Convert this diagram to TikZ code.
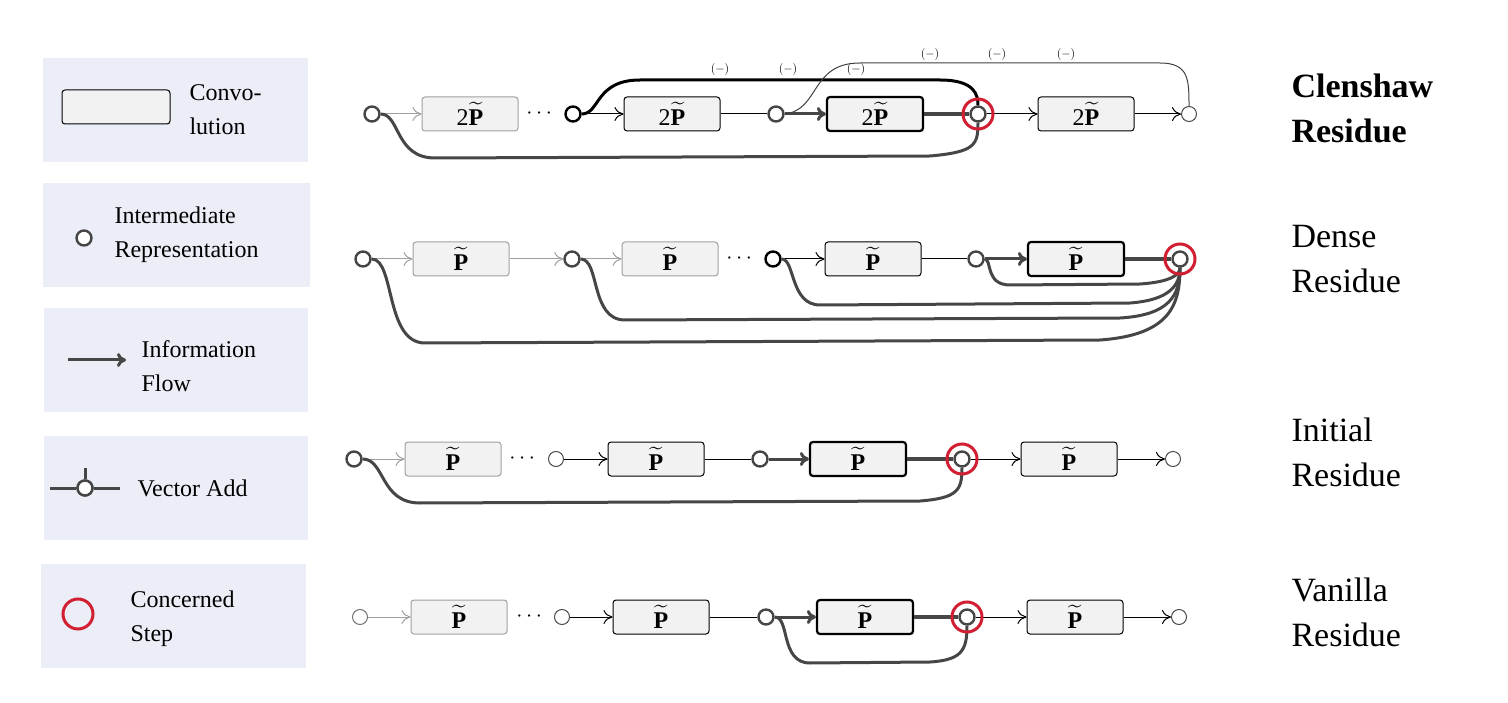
\documentclass[tikz,border=0pt]{standalone}
\usepackage{fix-cm}
\usepackage{amsmath,amssymb}
\usepackage{fontspec}
\setmainfont{Liberation Serif}
\usetikzlibrary{arrows.meta}
\definecolor{panel}{RGB}{235,238,246}
\definecolor{ringred}{RGB}{210,30,50}
\definecolor{linegray}{RGB}{70,70,70}
\definecolor{faintgray}{RGB}{160,160,160}
\tikzset{
  conv/.style={draw, rounded corners=3pt, fill=black!5, minimum width=96pt, minimum height=34pt, inner sep=0pt, font=\fontsize{24}{26}\selectfont, line width=1pt},
  convfaint/.style={conv, draw=faintgray},
  convbold/.style={conv, line width=2.2pt},
  inter/.style={circle, draw=linegray, line width=2.4pt, minimum size=15pt, inner sep=0pt, fill=white},
  interdark/.style={inter, draw=black},
  interthin/.style={circle, draw=black!70, line width=1pt, minimum size=15pt, inner sep=0pt, fill=white},
  flow/.style={-{To[length=9pt,width=14pt]}, line width=1pt},
  flowfaint/.style={flow, draw=faintgray},
  flowbold/.style={-{To[length=9pt,width=14pt]}, line width=3pt, draw=linegray},
  plain/.style={line width=1pt},
  plainbold/.style={line width=3.5pt, draw=linegray},
  skip/.style={line width=3pt, draw=linegray},
  skipblack/.style={line width=3pt, draw=black},
  skipthin/.style={line width=1pt, draw=black!75},
  ring/.style={draw=ringred, line width=3pt},
  panelbox/.style={fill=panel, draw=none},
  legtext/.style={anchor=west, align=left, font=\fontsize{24}{34}\selectfont},
  rowlabel/.style={anchor=west, align=left, font=\fontsize{34}{45}\selectfont},
  minus/.style={font=\fontsize{12}{12}\selectfont},
  dots/.style={font=\fontsize{22}{22}\selectfont}
}
\newcommand{\Pt}{$\widetilde{\textbf{P}}$}
\newcommand{\Ptt}{2$\widetilde{\textbf{P}}$}
\begin{document}
\begin{tikzpicture}[x=1pt,y=-1pt]
\useasboundingbox (0,0) rectangle (1508,703);

% legend panels
\fill[panelbox] (43,58) rectangle (308,162);
\fill[panelbox] (43,183) rectangle (310,287);
\fill[panelbox] (44,308) rectangle (308,412);
\fill[panelbox] (44,436) rectangle (308,540);
\fill[panelbox] (41,564) rectangle (306,668);

\node[conv, minimum width=108pt] (lconv) at (116,107) {};
\node[legtext] (tconv) at (186,110) {Convo-\\lution};
\node[inter] (linter) at (84,238) {};
\node[legtext] (tinter) at (111,235) {Intermediate\\Representation};
\coordinate (lfa) at (68,360);
\coordinate (lfb) at (126,360);
\draw[flowbold] (lfa) -- (lfb);
\node[legtext] (tflow) at (138,366) {Information\\Flow};
\coordinate (lva) at (50,488);
\coordinate (lvb) at (120,488);
\coordinate (lvt) at (85,468);
\node[inter] (ladd) at (85,488) {};
\draw[skip] (lva) -- (ladd) -- (lvb);
\draw[skip] (lvt) -- (ladd);
\node[inter] at (85,488) {};
\node[legtext] (tadd) at (134,488) {Vector Add};
\node[circle, ring, minimum size=30pt, inner sep=0pt] (lring) at (78,614) {};
\node[legtext] (tring) at (127,619) {Concerned\\Step};

% row labels
\node[rowlabel, font=\fontsize{34}{45}\selectfont\bfseries] (lclen) at (1288,108) {Clenshaw\\Residue};
\node[rowlabel] (ldense) at (1288,259) {Dense\\Residue};
\node[rowlabel] (linit) at (1288,452) {Initial\\Residue};
\node[rowlabel] (lvan) at (1288,612) {Vanilla\\Residue};

% Clenshaw row
\node[inter] (c0) at (372,114) {};
\node[convfaint] (cb1) at (470,114) {\Ptt};
\node[dots] (cd) at (541,114) {$\cdots$};
\node[interdark] (c1) at (573,114) {};
\node[conv] (cb2) at (672,114) {\Ptt};
\node[inter] (c2) at (776,114) {};
\node[convbold] (cb3) at (875,114) {\Ptt};
\node[inter] (c3) at (978,114) {};
\node[conv] (cb4) at (1086,114) {\Ptt};
\node[interthin] (c4) at (1189,114) {};
\draw[flowfaint] (c0) -- (cb1);
\draw[flow] (c1) -- (cb2);
\draw[plain] (cb2) -- (c2);
\draw[flowbold] (c2) -- (cb3);
\draw[plainbold] (cb3) -- (c3);
\draw[flow] (c3) -- (cb4);
\draw[flow] (cb4) -- (c4);
\draw[skip] (c0.east) .. controls (400,114) and (395,158) .. (435,158) -- (930,156) .. controls (975,152) and (978,145) .. (c3.south);
\draw[skipblack] (c1.east) .. controls (600,114) and (595,80) .. (640,80) -- (940,80) .. controls (975,80) and (978,95) .. (c3.north);
\draw[skipthin] (c2.east) .. controls (820,110) and (810,63) .. (860,63) -- (1160,63) .. controls (1189,63) and (1189,80) .. (c4.north);
\draw[ring] (c3) circle (15);
\node[minus] (m1) at (720,70) {$(-)$};
\node[minus] (m2) at (788,70) {$(-)$};
\node[minus] (m3) at (856,70) {$(-)$};
\node[minus] (m4) at (930,55) {$(-)$};
\node[minus] (m5) at (997,55) {$(-)$};
\node[minus] (m6) at (1066,55) {$(-)$};

% Dense row
\node[inter] (d0) at (363,259) {};
\node[convfaint] (db1) at (461,259) {\Pt};
\node[inter] (d1) at (572,259) {};
\node[convfaint] (db2) at (670,259) {\Pt};
\node[dots] (dd) at (741,259) {$\cdots$};
\node[interdark] (d2) at (773,259) {};
\node[conv] (db3) at (873,259) {\Pt};
\node[inter] (d3) at (976,259) {};
\node[convbold] (db4) at (1076,259) {\Pt};
\node[inter] (d4) at (1180,259) {};
\draw[flowfaint] (d0) -- (db1);
\draw[flowfaint] (db1) -- (d1);
\draw[flowfaint] (d1) -- (db2);
\draw[flow] (d2) -- (db3);
\draw[plain] (db3) -- (d3);
\draw[flowbold] (d3) -- (db4);
\draw[plainbold] (db4) -- (d4);
\draw[skip] (d3.east) .. controls (992,259) and (985,285) .. (1010,285) -- (1140,284) .. controls (1170,282) and (1180,275) .. (d4.south);
\draw[skip] (d2.east) .. controls (795,259) and (790,305) .. (820,305) -- (1130,303) .. controls (1170,300) and (1180,285) .. (d4.south);
\draw[skip] (d1.east) .. controls (600,259) and (590,320) .. (625,320) -- (1120,318) .. controls (1170,315) and (1180,295) .. (d4.south);
\draw[skip] (d0.east) .. controls (395,259) and (385,343) .. (425,343) -- (1100,340) .. controls (1170,335) and (1180,305) .. (d4.south);
\draw[ring] (d4) circle (15);

% Initial row
\node[inter] (i0) at (354,459) {};
\node[convfaint] (ib1) at (453,459) {\Pt};
\node[dots] (id) at (524,459) {$\cdots$};
\node[interthin] (i1) at (556,459) {};
\node[conv] (ib2) at (656,459) {\Pt};
\node[inter] (i2) at (760,459) {};
\node[convbold] (ib3) at (858,459) {\Pt};
\node[inter] (i3) at (962,459) {};
\node[conv] (ib4) at (1069,459) {\Pt};
\node[interthin] (i4) at (1173,459) {};
\draw[flowfaint] (i0) -- (ib1);
\draw[flow] (i1) -- (ib2);
\draw[plain] (ib2) -- (i2);
\draw[flowbold] (i2) -- (ib3);
\draw[plainbold] (ib3) -- (i3);
\draw[flow] (i3) -- (ib4);
\draw[flow] (ib4) -- (i4);
\draw[skip] (i0.east) .. controls (385,459) and (380,503) .. (420,503) -- (920,501) .. controls (958,498) and (962,490) .. (i3.south);
\draw[ring] (i3) circle (15);

% Vanilla row
\node[interthin, draw=black!55] (v0) at (360,617) {};
\node[convfaint] (vb1) at (459,617) {\Pt};
\node[dots] (vd) at (531,617) {$\cdots$};
\node[interthin] (v1) at (562,617) {};
\node[conv] (vb2) at (661,617) {\Pt};
\node[inter] (v2) at (766,617) {};
\node[convbold] (vb3) at (865,617) {\Pt};
\node[inter] (v3) at (967,617) {};
\node[conv] (vb4) at (1075,617) {\Pt};
\node[interthin] (v4) at (1179,617) {};
\draw[flowfaint] (v0) -- (vb1);
\draw[flow] (v1) -- (vb2);
\draw[plain] (vb2) -- (v2);
\draw[flowbold] (v2) -- (vb3);
\draw[plainbold] (vb3) -- (v3);
\draw[flow] (v3) -- (vb4);
\draw[flow] (vb4) -- (v4);
\draw[skip] (v2.east) .. controls (790,617) and (780,663) .. (810,663) -- (930,662) .. controls (962,660) and (967,650) .. (v3.south);
\draw[ring] (v3) circle (15);
\end{tikzpicture}
\end{document}
